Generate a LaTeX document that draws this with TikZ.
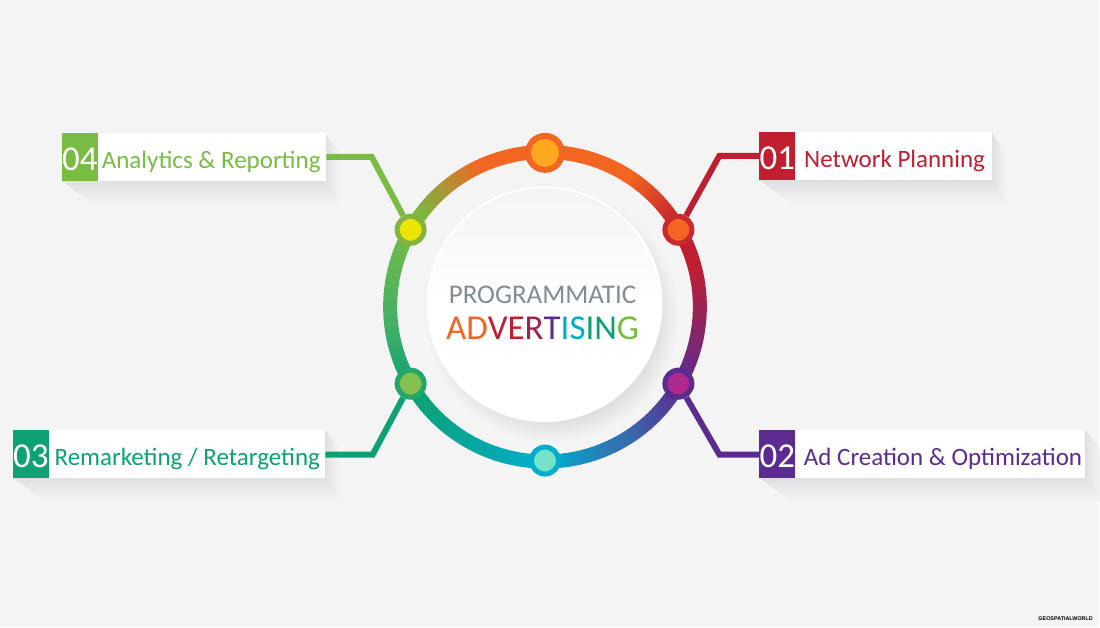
\documentclass[tikz,border=0pt]{standalone}
\usepackage{fontspec}
\setmainfont{Carlito}
\newfontfamily\markfont{Liberation Sans}
\usetikzlibrary{positioning}
\definecolor{mback}{rgb}{0.957, 0.957, 0.961}
\definecolor{mshad}{rgb}{0.87, 0.875, 0.885}
\definecolor{mred}{rgb}{0.75, 0.12, 0.19}
\definecolor{mpurple}{rgb}{0.36, 0.17, 0.56}
\definecolor{mteal}{rgb}{0.05, 0.63, 0.46}
\definecolor{mgreen}{rgb}{0.47, 0.74, 0.26}
\definecolor{morange}{rgb}{0.95, 0.40, 0.13}
\definecolor{mwine}{rgb}{0.62, 0.13, 0.38}
\definecolor{mblue}{rgb}{0.2, 0.45, 0.7}
\definecolor{mcyan}{rgb}{0, 0.68, 0.8}
\definecolor{mleaf}{rgb}{0.3, 0.7, 0.38}
\definecolor{molive}{rgb}{0.62, 0.62, 0.22}
\definecolor{mgrey}{rgb}{0.5, 0.55, 0.59}
\definecolor{mamber}{rgb}{1, 0.66, 0.12}
\definecolor{mmint}{rgb}{0.46, 0.89, 0.78}
\definecolor{mplum}{rgb}{0.69, 0.16, 0.56}
\definecolor{mlime}{rgb}{0.92, 0.90, 0}
\definecolor{mmoss}{rgb}{0.52, 0.75, 0.31}
\tikzset{numbox/.style = {rectangle, inner sep = 0, minimum width = 36, text height = 38, text depth = 10, text = white, font = \fontsize{35}{35}\selectfont},
  labbox/.style = {rectangle, fill = white, inner sep = 0, text height = 36, text depth = 12, font = \fontsize{25}{25}\selectfont},
  hub/.style = {circle, inner sep = 0, line width = 5, minimum size = 27},
  bighub/.style = {hub, line width = 6, minimum size = 34},
  wire/.style = {line width = 6, miter limit = 10},
  ringseg/.style = {line width = 14}}

\begin{document}
\begin{tikzpicture}[x=1pt, y=1pt]
       \fill [mback] (0, 0) rectangle (1100, 628);

       % long shadows under the boxes
       \foreach \xa/\xb/\yb in {62/325/447, 13/325/150, 760/992/448, 760/1086/150} {
         \shade [top color = mshad, bottom color = mback] (\xa, \yb) -- (\xa + 32, \yb - 24) -- (\xb + 15, \yb - 24) -- (\xb + 15, \yb) -- cycle;
         \shade [left color = mshad, right color = mback] (\xb, \yb + 48) -- (\xb + 15, \yb + 28) -- (\xb + 15, \yb - 24) -- (\xb, \yb) -- cycle;
       }

       % ring, blended in short arcs
       \coordinate (cen) at (545.5, 321);
       \foreach \from/\to/\cfrom/\cto in {90/58/morange/morange, 58/30/morange/mred, 30/16/mred/mred, 16/-30/mred/mpurple, -30/-62/mpurple/mblue, -62/-90/mblue/mcyan, -90/-146/mcyan/mteal, -146/-180/mteal/mleaf, -180/-214/mleaf/mgreen, -214/-226/mgreen/molive, -226/-246/molive/morange, -246/-270/morange/morange} {
         \foreach \t in {0, ..., 14} {
           \pgfmathsetmacro\ang{\from + (\to - \from) * \t / 15}
           \pgfmathsetmacro\pct{100 * \t / 14}
           \pgfmathsetmacro\sweep{(\to - \from) / 15 - 0.3}
           \draw [ringseg, \cto!\pct!\cfrom] (cen) ++(\ang:155) arc [start angle = \ang, delta angle = \sweep, radius = 155];
         }
       }

       % centre disc
       \foreach \r in {104, 106, ..., 126} {
         \fill [black, opacity = 0.009] (553, 312) circle [radius = \r];
       }
       \shade [top color = mback, bottom color = white, middle color = white] (545, 323.5) circle [radius = 117];
       \draw [white, line width = 2] (545, 323.5) circle [radius = 117];
       \node (title) [text = mgrey, font = \fontsize{27}{27}\selectfont] at (543, 333) {PROGRAMMATIC};
       \node (word) [font = \fontsize{35}{35}\selectfont] at (543, 299) {\textcolor{morange}{AD}\textcolor{mred}{VE}\textcolor{mred!70!mpurple}{R}\textcolor{mpurple}{T}\textcolor{mcyan}{IS}\textcolor{mteal}{IN}\textcolor{mgreen}{G}};

       % hubs on the ring
       \node (hubtop) [bighub, draw = morange, fill = mamber] at (545.5, 475) {};
       \node (hubone) [hub, draw = mred!85!morange, fill = morange] at (679, 398) {};
       \node (hubtwo) [hub, draw = mpurple, fill = mplum] at (679, 244) {};
       \node (hubbot) [hub, draw = mcyan, fill = mmint] at (545.5, 167) {};
       \node (hubthree) [hub, draw = mteal!80!mgreen, fill = mmoss] at (411, 244) {};
       \node (hubfour) [hub, draw = mgreen!70!molive, fill = mlime] at (411, 398) {};

       % label boxes
       \node (numone) [numbox, fill = mred] at (778, 472) {01};
       \node (labone) [labbox, right = 0 of numone, minimum width = 196, text = mred] {\hspace*{2pt}Network Planning};
       \node (numtwo) [numbox, fill = mpurple] at (778, 174) {02};
       \node (labtwo) [labbox, right = 0 of numtwo, minimum width = 290, text = mpurple] {\hspace*{5pt}Ad Creation \& Optimization};
       \node (numthree) [numbox, fill = mteal] at (31, 174) {03};
       \node (labthree) [labbox, right = 0 of numthree, minimum width = 276, text = mteal] {Remarketing / Retargeting};
       \node (numfour) [numbox, fill = mgreen] at (80, 471) {04};
       \node (labfour) [labbox, right = 0 of numfour, minimum width = 228, text = mgreen] {Analytics \& Reporting\hspace*{2pt}};

       % connectors
       \coordinate (elbone) at (720, 472);
       \coordinate (elbtwo) at (720, 173);
       \coordinate (elbthree) at (373, 173);
       \coordinate (elbfour) at (372, 471);
       \draw [wire, mred] (numone.west) -- (elbone) -- (hubone);
       \draw [wire, mpurple] (numtwo.west |- elbtwo) -- (elbtwo) -- (hubtwo);
       \draw [wire, mteal] (labthree.east |- elbthree) -- (elbthree) -- (hubthree);
       \draw [wire, mgreen] (labfour.east) -- (elbfour) -- (hubfour);

       \node (mark) [inner sep = 0, anchor = east, font = \markfont\bfseries\fontsize{5.4}{5.4}\selectfont] at (1094, 9) {GEOSPATIALWORLD};
    \end{tikzpicture}
\end{document}
